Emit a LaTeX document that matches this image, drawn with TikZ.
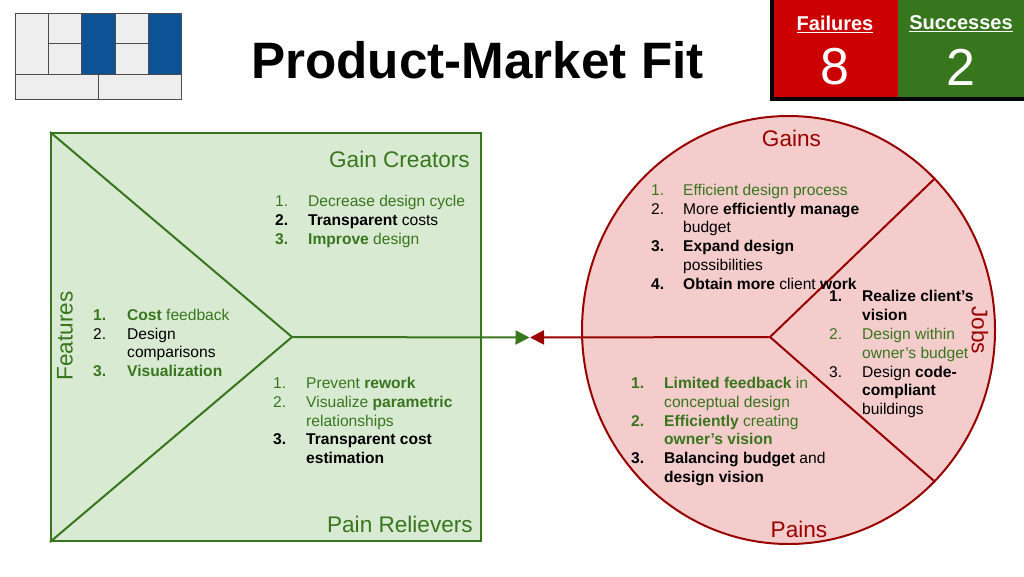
\documentclass[tikz,border=0pt]{standalone}
\usepackage{fontspec}
\setmainfont{Liberation Sans}
\usetikzlibrary{arrows.meta,shapes.geometric}
\definecolor{fitgreen}{HTML}{38761D}
\definecolor{fitlightgreen}{HTML}{D9EAD3}
\definecolor{fitred}{HTML}{990000}
\definecolor{fitlightred}{HTML}{F4CCCC}
\definecolor{logoblue}{HTML}{0B5394}
\definecolor{logogray}{HTML}{EEEEEE}
\newcommand{\gr}[1]{\textcolor{fitgreen}{#1}}
\tikzset{
  logocell/.style={draw=black!70, line width=0.9pt, fill=logogray, anchor=north west, inner sep=0pt},
  logoblock/.style={logocell, fill=logoblue},
  listnode/.style={anchor=north west, inner sep=0pt, font=\fontsize{15.6}{18.8}\selectfont},
  headnode/.style={inner sep=0pt, font=\fontsize{22.6}{26}\selectfont},
  scorecell/.style={minimum height=97pt, inner sep=0pt, anchor=north west, text=white, align=center},
  scorelabel/.style={text=white, inner sep=0pt, font=\fontsize{20}{24}\selectfont\bfseries},
  scorenum/.style={text=white, inner sep=0pt, font=\fontsize{52}{56}\selectfont},
}
\begin{document}
\begin{tikzpicture}[x=1pt, y=-1pt]
\useasboundingbox (0,0) rectangle (1024,576);

% Logo
\node[logocell, minimum width=33pt, minimum height=61pt] (logoa) at (15,13) {};
\node[logocell, minimum width=33pt, minimum height=30pt] (logob) at (48,13) {};
\node[logocell, minimum width=33pt, minimum height=31pt] (logoc) at (48,43) {};
\node[logoblock, minimum width=34pt, minimum height=61pt] (logod) at (81,13) {};
\node[logocell, minimum width=33pt, minimum height=30pt] (logoe) at (115,13) {};
\node[logocell, minimum width=33pt, minimum height=31pt] (logof) at (115,43) {};
\node[logoblock, minimum width=33pt, minimum height=61pt] (logog) at (148,13) {};
\node[logocell, minimum width=83pt, minimum height=25pt] (logoh) at (15,74) {};
\node[logocell, minimum width=83pt, minimum height=25pt] (logoi) at (98,74) {};

% Title
\node[inner sep=0pt, font=\fontsize{51.2}{56}\selectfont\bfseries] (title) at (477.5,60) {Product-Market Fit};

% Score
\fill[black] (770,0) rectangle (1024,101);
\node[scorecell, fill=red!80!black, minimum width=124pt] (failbox) at (774,0) {};
\node[scorecell, fill=fitgreen, minimum width=126pt] (succbox) at (898,0) {};
\node[scorelabel] (faillabel) at (835,24) {\underline{Failures}};
\node[scorelabel] (succlabel) at (961,24) {\underline{Successes}};
\node[scorenum] (failnum) at (835,67) {8};
\node[scorenum] (succnum) at (961,67) {2};

% Shapes
\node[draw=fitgreen, fill=fitlightgreen, line width=2pt, minimum width=430pt, minimum height=408pt, inner sep=0pt] (valuemap) at (266,337) {};
\node[ellipse, draw=fitred, fill=fitlightred, line width=2pt, minimum width=413pt, minimum height=428pt, inner sep=0pt] (profile) at (788.5,330) {};
\coordinate (maphub) at (292,337);
\coordinate (profilehub) at (770,337);
\coordinate (arrowgreen) at (529.5,337.5);
\coordinate (arrowred) at (530,337.5);

% Lines
\draw[fitgreen, line width=2pt] (valuemap.north west) -- (maphub) -- (valuemap.south west);
\draw[fitred, line width=2pt] (profile.46) -- (profilehub) -- (profile.-46);
\draw[fitgreen, line width=2pt, -{Triangle[length=14pt, width=14pt]}] (maphub) -- (arrowgreen);
\draw[fitred, line width=2pt, -{Triangle[length=14pt, width=14pt]}] (profilehub) -- (arrowred);

% Headings
\node[headnode, text=fitgreen, anchor=east] (gaincreators) at (470,159) {Gain Creators};
\node[headnode, text=fitgreen, anchor=east] (painrelievers) at (473,524) {Pain Relievers};
\node[headnode, text=fitgreen, rotate=90] (features) at (65,336) {Features};
\node[headnode, text=fitred] (gains) at (791.5,138.5) {Gains};
\node[headnode, text=fitred] (pains) at (799,529.5) {Pains};
\node[headnode, text=fitred, rotate=-90] (jobs) at (980,330) {Jobs};

% Lists
\node[listnode] (creatorlist) at (275,193.5) {\begin{tabular}{@{}p{33pt}@{}l@{}}
\gr{1.} & \gr{Decrease design cycle} \\
\textbf{2.} & \textbf{Transparent} costs \\
\gr{\textbf{3.}} & \gr{\textbf{Improve} design} \\
\end{tabular}};
\node[listnode] (featurelist) at (93,307) {\begin{tabular}{@{}p{34pt}@{}l@{}}
\gr{\textbf{1.}} & \gr{\textbf{Cost} feedback} \\
2. & Design \\
 & comparisons \\
\gr{\textbf{3.}} & \gr{\textbf{Visualization}} \\
\end{tabular}};
\node[listnode] (relieverlist) at (273,375.2) {\begin{tabular}{@{}p{33pt}@{}l@{}}
\gr{1.} & \gr{Prevent \textbf{rework}} \\
\gr{2.} & \gr{Visualize \textbf{parametric}} \\
 & \gr{relationships} \\
\textbf{3.} & \textbf{Transparent cost} \\
 & \textbf{estimation} \\
\end{tabular}};
\node[listnode] (gainlist) at (651,182) {\begin{tabular}{@{}p{32pt}@{}l@{}}
\gr{1.} & \gr{Efficient design process} \\
2. & More \textbf{efficiently manage} \\
 & budget \\
\textbf{3.} & \textbf{Expand design} \\
 & possibilities \\
\textbf{4.} & \textbf{Obtain more} client \textbf{work} \\
\end{tabular}};
\node[listnode] (joblist) at (829,288.5) {\begin{tabular}{@{}p{33pt}@{}l@{}}
\textbf{1.} & \textbf{Realize client's} \\
 & \textbf{vision} \\
\gr{2.} & \gr{Design within} \\
 & \gr{owner's budget} \\
3. & Design \textbf{code-} \\
 & \textbf{compliant} \\
 & buildings \\
\end{tabular}};
\node[listnode] (painlist) at (631,375.2) {\begin{tabular}{@{}p{33pt}@{}l@{}}
\gr{\textbf{1.}} & \gr{\textbf{Limited feedback} in} \\
 & \gr{conceptual design} \\
\gr{\textbf{2.}} & \gr{\textbf{Efficiently} creating} \\
 & \gr{\textbf{owner's vision}} \\
\textbf{3.} & \textbf{Balancing budget} and \\
 & \textbf{design vision} \\
\end{tabular}};

\end{tikzpicture}
\end{document}
